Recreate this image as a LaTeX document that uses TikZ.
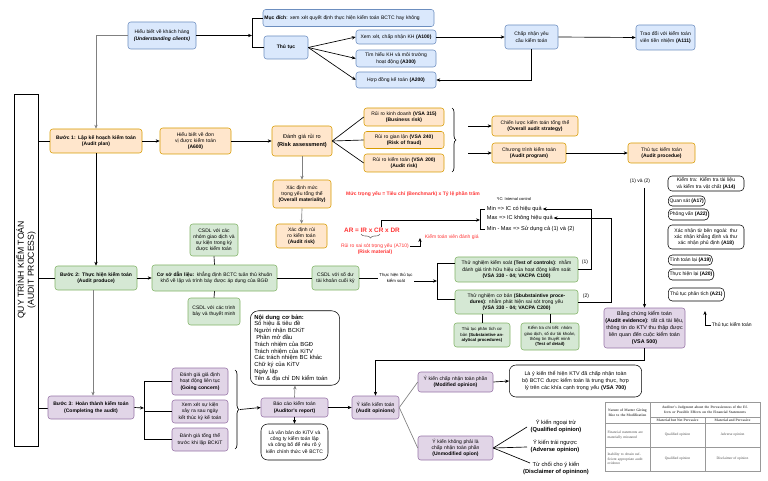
\documentclass[tikz,border=0pt]{standalone}
\usepackage{fontspec}
\setmainfont{Liberation Sans}
\newfontfamily\tser{Liberation Serif}
\usetikzlibrary{arrows.meta,decorations.pathreplacing}
\definecolor{bluef}{HTML}{DAE8FC}\definecolor{blued}{HTML}{6C8EBF}
\definecolor{orf}{HTML}{FFE6CC}\definecolor{ord}{HTML}{D79B00}
\definecolor{grf}{HTML}{D5E8D4}\definecolor{grd}{HTML}{82B366}
\definecolor{puf}{HTML}{E1D5E7}\definecolor{pud}{HTML}{9673A6}
\definecolor{redt}{HTML}{FF3333}
\newcommand{\fsz}{\fontsize{3.75}{4.7}\selectfont}
\newcommand{\fsm}{\fontsize{3.2}{4}\selectfont}
\tikzset{
 base/.style={draw, rounded corners=2pt, align=center, inner sep=1pt, font=\fsz, line width=0.4pt},
 sz/.style 2 args={text width=#1*0.75pt-2pt, minimum height=#2*0.75pt, minimum width=#1*0.75pt},
 sb/.style 2 args={minimum width=#1*0.75pt, minimum height=#2*0.75pt, anchor=west},
 bl/.style={base, fill=bluef, draw=blued},
 og/.style={base, fill=orf, draw=ord},
 gr/.style={base, fill=grf, draw=grd},
 pu/.style={base, fill=puf, draw=pud},
 wb/.style={base, fill=white, draw=black, rounded corners=3pt},
 ln/.style={draw=black, line width=0.5pt},
 gl/.style={draw=gray, line width=0.5pt},
 arr/.style={ln, -{Stealth[length=3pt,width=2.5pt]}},
 garr/.style={gl, -{Stealth[length=3pt,width=2.5pt]}},
 rt/.style={text=redt, font=\fsz, align=center, inner sep=0.5pt},
 br/.style={ln, decorate, decoration={brace, amplitude=3pt}},
 tb/.style={font=\tser\fontsize{2.7}{3.5}\selectfont, align=center, inner sep=0.5pt, text=black!70}
}
\begin{document}
\begin{tikzpicture}[x=0.75pt,y=-0.75pt]
\useasboundingbox (0,0) rectangle (768,481);
% title
\draw[line width=0.6pt] (14,94) rectangle (38,446);
\node[rotate=90, align=center, font=\fontsize{6.5}{7.5}\selectfont] (title) at (26,270) {QUY TRÌNH KIỂM TOÁN\\(AUDIT PROCESS)};
% row 1
\node[bl, sz={68}{27}] (hk) at (162,35.5) {Hiểu biết về khách hàng\\\textbf{\textit{(Understanding clients)}}};
\node[bl, sz={171}{17}, align=left] (md) at (348.5,18) {\textbf{Mục đích}: xem xét quyết định thực hiện kiểm toán BCTC hay không};
\node[bl, sz={44}{23}] (tt) at (286,47.5) {\textbf{Thủ tục}};
\node[bl, sz={80}{14}] (a100) at (396,37) {Xem xét, chấp nhận KH \textbf{(A100)}};
\node[bl, sz={80}{17}] (a300) at (396,58.5) {Tìm hiểu KH và môi trường\\hoạt động \textbf{(A300)}};
\node[bl, sz={80}{16}] (a200) at (396,80) {Hợp đồng kế toán \textbf{(A200)}};
\node[bl, sz={53}{24}] (cn) at (531.5,37) {Chấp nhận yêu cầu kiểm toán};
\node[bl, sz={59}{25}] (a111) at (665.5,37.5) {Trao đổi với kiểm toán viên tiền nhiệm \textbf{(A111)}};
\draw[arr] (hk.east) -- (252,35.5);
\draw[ln] (md.west) -- (252,18) -- (252,47.5) -- (tt.west);
\draw[arr] (tt.east) -- (a100.west);
\draw[arr] (tt.east) -- (a300.west);
\draw[arr] (tt.east) -- (a200.west);
\draw[arr] (a100.east) -- (cn.west);
\draw[arr] (cn.east) -- (a111.west);
\draw[arr] (cn.south) |- (a200.east);
% step 1
\node[og, sz={92}{24}] (b1) at (96,141) {\textbf{Bước 1: Lập kế hoạch kiểm toán}\\\textbf{(Audit plan)}};
\node[og, sz={71}{26}] (a600) at (195.5,141) {Hiểu biết về đơn vị được kiểm toán\\\textbf{(A600)}};
\node[og, sz={60}{30}, font=\fontsize{4.2}{5.4}\selectfont] (dg) at (302,141) {Đánh giá rủi ro\\\textbf{(Risk assessment)}};
\node[og, sz={80}{18}] (r1) at (404,117) {Rủi ro kinh doanh \textbf{(VSA 315)}\\\textbf{(Business risk)}};
\node[og, sz={80}{17}] (r2) at (404,140) {Rủi ro gian lận \textbf{(VSA 240)}\\\textbf{(Risk of fraud)}};
\node[og, sz={80}{18}] (r3) at (404,163) {Rủi ro kiểm toán \textbf{(VSA 200)}\\\textbf{(Audit risk)}};
\node[og, sz={86}{20}] (cs) at (535,126) {Chiến lược kiểm toán tổng thể\\\textbf{(Overall audit strategy)}};
\node[og, sz={74}{20}] (cp) at (529,153) {Chương trình kiểm toán\\\textbf{(Audit program)}};
\node[og, sz={67}{20}] (tk) at (661.5,153) {Thủ tục kiểm toán\\\textbf{(Audit procedue)}};
\node[og, sz={58}{28}] (mat) at (302,194) {Xác định mức trọng yếu tổng thể\\\textbf{(Overall materiality)}};
\node[og, sz={51}{24}] (ark) at (301.5,236) {Xác định rủi ro kiểm toán\\\textbf{(Audit risk)}};
\draw[garr] (hk.west) -| (b1.north);
\draw[arr] (b1.east) -- (a600.west);
\draw[arr] (a600.east) -- (dg.west);
\draw[ln] (dg.east) -- (r1.west);
\draw[ln] (dg.east) -- (r2.west);
\draw[ln] (dg.east) -- (r3.west);
\draw[br] (452,108) -- (452,172);
\coordinate (bx1) at (468,126); \coordinate (bx2) at (468,153);
\draw[arr] (bx1) -- (cs.west);
\draw[arr] (bx2) -- (cp.west);
\draw[arr] (cp.east) -- (tk.west);
\draw[garr] (dg.south) -- (mat.north);
\draw[garr] (mat.south) -- (ark.north);
% red formulas
\node[rt, font=\fsz\bfseries] (mtf) at (413,194) {Mức trọng yếu = Tiêu chí (Benchmark) x Tỷ lệ phần trăm};
\node[rt, font=\fontsize{4.8}{6}\selectfont\bfseries] (arf) at (372,230) {AR = IR x CR x DR};
\draw[br, draw=black!60, line width=0.4pt] (380,234) -- (361,234);
\node[rt] (rsm) at (375,249) {Rủi ro sai sót trọng yếu (A710)\\\textbf{(Risk material)}};
\node[rt, anchor=west] (ktv) at (424,237) {Kiểm toán viên đánh giá};
\coordinate (ktva) at (420,238);
\draw[arr] (rsm.east |- 0,246) -| (ktva);
\coordinate (arup) at (381,220);
\draw[arr] (arf.north -| arup) -- (arup) -- (480,220);
\draw[ln] (485,209) -- (480,209) -- (480,229) -- (485,229);
\node[font=\fontsize{4.2}{5}\selectfont, anchor=west, inner sep=0.5pt] (mn) at (486,209) {Min => IC có hiệu quả};
\node[font=\fontsize{4.2}{5}\selectfont, anchor=west, inner sep=0.5pt] (mx) at (486,218) {Max => IC không hiệu quả};
\node[font=\fontsize{4.2}{5}\selectfont, anchor=west, inner sep=0.5pt] (mm) at (486,229) {Min - Max => Sử dụng cả (1) và (2)};
\node[font=\fontsize{3}{3.5}\selectfont, inner sep=0.5pt] (icn) at (514,199) {*IC: Internal control};
% step 2
\node[gr, sz={82}{24}] (b2) at (96,278) {\textbf{Bước 2: Thực hiện kiểm toán}\\\textbf{(Audit produce)}};
\node[gr, sz={125}{26}] (csdl) at (214.5,278) {\textbf{Cơ sở dẫn liệu:} khẳng định BCTC tuân thủ khuôn khổ về lập và trình bày được áp dụng của BGĐ};
\node[gr, sz={48}{32}] (cg) at (214,240) {CSDL với các nhóm giao dịch và sự kiện trong kỳ được kiểm toán};
\node[gr, sz={52}{27}] (ctm) at (214,311.5) {CSDL với các trình bày và thuyết minh};
\node[gr, sz={47}{24}] (cs2) at (335.5,278) {CSDL với số dư tài khoản cuối kỳ};
\node[font=\fsm, align=center, inner sep=1pt] (thks) at (396,278) {Thực hiện thủ tục\\kiểm soát};
\node[gr, sz={123}{25}] (toc) at (516.5,269.5) {Thử nghiệm kiểm soát \textbf{(Test of controls)}: nhằm đánh giá tính hữu hiệu của hoạt động kiểm soát\\\textbf{(VSA 330 - 04; VACPA C100)}};
\node[gr, sz={123}{24}] (tob) at (516.5,302) {Thử nghiệm cơ bản \textbf{(Sbubstaintive procedures)}: nhằm phát hiện sai sót trọng yếu\\\textbf{(VSA 330 - 04; VACPA C200)}};
\node[gr, sz={56}{24}, font=\fsm] (sap) at (482,335) {Thủ tục phân tích cơ bản \textbf{(Substaintive analytical procedures)}};
\node[gr, sz={58}{27}, font=\fsm] (tod) at (550,336.5) {Kiểm tra chi tiết: nhóm giao dịch, số dư tài khoản, thông tin thuyết minh\\\textbf{(Test of detail)}};
\draw[ln] (38,141) -- (b1.west);
\draw[ln] (38,278) -- (b2.west);
\draw[ln] (38,408) -- (48,408);
\draw[arr] (b1.south) -- (b2.north);
\draw[arr] (b2.east) -- (csdl.west);
\draw[ln] (cg.south) -- (csdl.north);
\draw[ln] (csdl.south) -- (ctm.north);
\draw[ln] (csdl.east) -- (cs2.west);
\draw[ln] (cs2.east) -- (thks.west);
\draw[arr] (thks.east |- 0,281) -- (437,281);
\draw[ln] (toc.west |- 0,263) -- (437,263) -- (437,299) -- (tob.west |- 0,299);
\draw[ln] (tob.south -| sap.north) -- (sap.north);
\draw[ln] (tob.south -| tod.north) -- (tod.north);
\node[font=\fsz, inner sep=0.5pt] (l1) at (585,262) {(1)};
\node[font=\fsz, inner sep=0.5pt] (l2) at (586,296) {(2)};
\draw[arr] (toc.east) -- (591,269.5) |- (mn.east);
\draw[arr] (tob.east) -- (611,302) |- (mx.east);
% evidence
\node[pu, sz={81}{40}, font=\fontsize{4}{5.2}\selectfont] (be) at (644.5,328) {Bằng chứng kiểm toán\\\textbf{(Audit evidence)}: tất cả tài liệu, thông tin do KTV thu thập được liên quan đến cuộc kiểm toán\\\textbf{(VSA 500)}};
\node[font=\fsz, inner sep=0.5pt] (q12) at (640,181) {(1) và (2)};
\coordinate (q12b) at (644.5,188);
\draw[arr] (q12b) -- (be.north);
\node[wb, sz={76}{15}] (k14) at (706,183.5) {Kiểm tra: Kiểm tra tài liệu và kiểm tra vật chất \textbf{(A14)}};
\node[wb, sb={35}{10}] (a17) at (668,201) {Quan sát \textbf{(A17)}};
\node[wb, sb={37}{11}] (a22) at (668,214.5) {Phỏng vấn \textbf{(A22)}};
\node[wb, sz={76}{24}] (a18) at (706,237) {Xác nhận từ bên ngoài: thư xác nhận khẳng định và thư xác nhận phủ định \textbf{(A18)}};
\node[wb, sb={39}{10}] (a19) at (668,260) {Tính toán lại \textbf{(A19)}};
\node[wb, sb={39}{11}] (a20) at (668,274.5) {Thực hiện lại \textbf{(A20)}};
\node[wb, sb={56}{13}] (a21) at (668,294.5) {Thủ tục phân tích \textbf{(A21)}};
\node[font=\fsz, anchor=west, inner sep=0.5pt] (tkt) at (711,325) {Thủ tục kiểm toán};
\coordinate (tka) at (705,311);
\draw[arr] (tkt.west) -| (tka);
% step 3
\node[pu, sz={86}{23}] (b3) at (91,407.5) {\textbf{Bước 3: Hoàn thành kiểm toán}\\\textbf{(Completing the audit)}};
\node[pu, sz={56}{27}] (gc) at (200,381.5) {Đánh giá giả định hoạt động liên tục\\\textbf{(Going concern)}};
\node[pu, sz={56}{23}] (xs) at (200,411.5) {Xem xét sự kiện xảy ra sau ngày kết thúc kỳ kế toán};
\node[pu, sz={56}{23}] (dgt) at (200,439.5) {Đánh giá tổng thể trước khi lập BCKiT};
\draw[garr] (b2.south -| 93,0) -- (b3.north -| 93,0);
\draw[arr] (b3.east) -- (144,408);
\draw[ln] (gc.west) -- (144,381.5) -- (144,439.5) -- (dgt.west);
\draw[ln] (144,411.5) -- (xs.west);
\draw[br] (235,370) -- (235,449);
\node[pu, sz={67}{19}] (bc) at (294.5,407.5) {Báo cáo kiểm toán\\\textbf{(Auditor's report)}};
\draw[arr] (240,409.5) -- (bc.west);
\node[wb, sz={84}{72}, align=left, font=\fontsize{4.4}{5.1}\selectfont, rounded corners=6pt, inner sep=3pt] (nd) at (295,348) {\textbf{Nội dung cơ bản:}\\Số hiệu \& tiêu đề\\Người nhận BCKiT\\\ Phần mở đầu\\Trách nhiệm của BGĐ\\Trách nhiệm của KiTV\\Các trách nhiệm BC khác\\Chữ ký của KiTV\\Ngày lập\\Tên \& địa chỉ DN kiểm toán};
\node[wb, sz={67}{36}, rounded corners=5pt] (lv) at (294.5,442) {Là văn bản do KiTV và công ty kiểm toán lập và công bố để nêu rõ ý kiến chính thức về BCTC};
\draw[garr] (bc.north) -- (nd.south);
\draw[arr] (bc.south) -- (lv.north);
\node[pu, sz={47}{23}] (yk) at (375.5,407.5) {Ý kiến kiểm toán\\\textbf{(Audit opinions)}};
\draw[arr] (bc.east) -- (yk.west);
\coordinate (ev) at (375.5,360);
\draw[arr] (be.south) |- (ev) -- (yk.north);
\node[pu, sz={75}{20}] (mo) at (455.5,382) {Ý kiến chấp nhận toàn phần\\\textbf{(Modified opinion)}};
\node[pu, sz={75}{24}] (uo) at (455.5,448) {Ý kiến không phải là chấp nhận toàn phần\\\textbf{(Unmodified opion)}};
\draw[gl] (yk.east) -- (mo.west);
\draw[gl] (yk.east) -- (uo.west);
\node[wb, sz={127}{32}, font=\fontsize{4}{5.3}\selectfont, rounded corners=5pt, inner sep=3pt] (ly) at (575.5,381) {Là ý kiến thể hiện KTV đã chấp nhận toàn bộ BCTC được kiểm toán là trung thực, hợp lý trên các khía cạnh trọng yếu \textbf{(VSA 700)}};
\draw[arr] (mo.east) -- (ly.west);
\node[font=\fontsize{4.3}{5.4}\selectfont, align=center, inner sep=0.5pt] (q1) at (556,426) {Ý kiến ngoại trừ\\\textbf{(Qualified opinion)}};
\node[font=\fontsize{4.3}{5.4}\selectfont, align=center, inner sep=0.5pt] (q2) at (555,446) {Ý kiến trái ngược\\\textbf{(Adverse opinion)}};
\node[font=\fontsize{4.3}{5.4}\selectfont, align=center, inner sep=0.5pt] (q3) at (556,468) {Từ chối cho ý kiến\\\textbf{(Disclaimer of opininon)}};
\coordinate (u1) at (527,427); \coordinate (u2) at (527,447); \coordinate (u3) at (530,463);
\draw[ln] (uo.east) -- (u1);
\draw[ln] (uo.east) -- (u2);
\draw[ln] (uo.east) -- (u3);
% table
\draw[black!40, line width=0.3pt] (605,402) rectangle (760,471);
\draw[black!40, line width=0.3pt] (650,402) -- (650,471) (705,417) -- (705,471) (650,417) -- (760,417) (605,423) -- (760,423) (605,447) -- (760,447);
\node[tb, text width=30pt] (t11) at (627.5,412.5) {\textbf{Nature of Matter Giving Rise to the Modification}};
\node[tb, text width=78pt] (t12) at (705,409.5) {\textbf{Auditor's Judgment about the Pervasiveness of the Effects or Possible Effects on the Financial Statements}};
\node[tb] (t21) at (677.5,420) {\textbf{Material but Not Pervasive}};
\node[tb] (t22) at (732.5,420) {\textbf{Material and Pervasive}};
\node[tb, align=left, text width=30pt] (t31) at (627.5,435) {Financial statements are materially misstated};
\node[tb] (t32) at (677.5,435) {Qualified opinion};
\node[tb] (t33) at (732.5,435) {Adverse opinion};
\node[tb, align=left, text width=30pt] (t41) at (627.5,459) {Inability to obtain sufficient appropriate audit evidence};
\node[tb] (t42) at (677.5,459) {Qualified opinion};
\node[tb] (t43) at (732.5,459) {Disclaimer of opinion};
\end{tikzpicture}
\end{document}
